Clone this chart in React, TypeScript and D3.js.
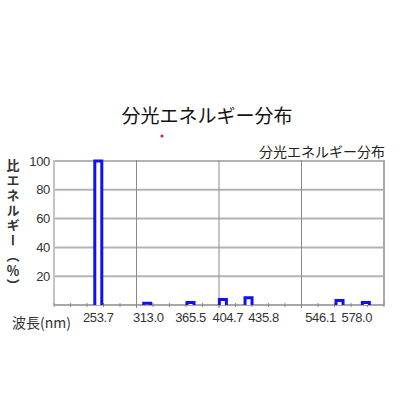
import React from "react";
import * as d3 from "d3";

// ---- data ----
const wavelengths = [253.7, 313.0, 365.5, 404.7, 435.8, 546.1, 578.0];
const energies = [100, 1.2, 1.8, 3.8, 5.0, 3.2, 1.8];
const tickLabels = ["253.7", "313.0", "365.5", "404.7", "435.8", "546.1", "578.0"];
const yTicks = [20, 40, 60, 80, 100];
const gridWavelengths = [300, 400, 500];
const minorTicks = d3.range(200, 601, 20);
const titleText = "分光エネルギー分布";
const yTitle = "比エネルギー（％）";
const xTitle = "波長(nm)";

// ---- layout ----
const W = 420;
const H = 420;
const left = 54;
const right = 384;
const top = 161;
const bottom = 305;
const labelNudge = [0, 1, 0, 5, 15, -19, -9];
const barW = 7;

const CJK = "'Noto Sans CJK JP', 'Noto Sans', sans-serif";
const LAT = "'Liberation Sans', Arial, sans-serif";

export default function App() {
  const x = d3.scaleLinear().domain([200, 600]).range([left, right]);
  const y = d3.scaleLinear().domain([0, 100]).range([bottom, top]);

  const barPath = (w: number, v: number) => {
    const p = d3.path();
    const x0 = x(w) - barW / 2;
    const x1 = x(w) + barW / 2;
    p.moveTo(x0, y(0));
    p.lineTo(x0, y(v));
    p.lineTo(x1, y(v));
    p.lineTo(x1, y(0));
    return p.toString();
  };

  return (
    <svg
      width={W}
      height={H}
      style={{ position: "absolute", left: 0, top: 0, background: "#fff" }}
    >
      <rect x={0} y={0} width={W} height={H} fill="#fff" />
      {/* title */}
      <text x={207} y={123} textAnchor="middle" fontFamily={CJK} fontSize={19} fill="#111">
        {titleText}
      </text>
      <circle cx={162} cy={136} r={1.6} fill="#e0202a" />
      <text x={right + 1} y={157} textAnchor="end" fontFamily={CJK} fontSize={14} fill="#222">
        {titleText}
      </text>

      {/* horizontal grid */}
      {yTicks.map((t) => (
        <line key={"h" + t} x1={left} x2={right} y1={y(t)} y2={y(t)} stroke="#b4b4b4" strokeWidth={2} />
      ))}
      {/* vertical grid */}
      {gridWavelengths.map((g) => (
        <line key={"v" + g} x1={x(g)} x2={x(g)} y1={top - 1} y2={bottom + 3} stroke="#8c8c8c" strokeWidth={1} />
      ))}
      {/* left axis & right border */}
      <line x1={left} x2={left} y1={top - 1} y2={bottom} stroke="#c4c4c4" strokeWidth={2} />
      <line x1={right} x2={right} y1={top - 1} y2={bottom} stroke="#a8a8a8" strokeWidth={2} />
      {/* bottom axis */}
      <line x1={left} x2={right} y1={bottom} y2={bottom} stroke="#a8a8a8" strokeWidth={2} />
      {minorTicks.map((t) => (
        <line key={"m" + t} x1={x(t)} x2={x(t)} y1={bottom - 2} y2={bottom + 2} stroke="#888" strokeWidth={1} />
      ))}

      {/* y tick labels */}
      {yTicks.map((t) => (
        <text key={"yl" + t} x={50} y={y(t) + 4.5} textAnchor="end" fontFamily={LAT} fontSize={13} fill="#333" letterSpacing={-0.3}>
          {t}
        </text>
      ))}

      {/* bars */}
      {wavelengths.map((w, i) => (
        <path key={"b" + i} d={barPath(w, energies[i])} fill="#fff" stroke="#1010f0" strokeWidth={3} />
      ))}

      {/* x tick labels */}
      {wavelengths.map((w, i) => (
        <text
          key={"xl" + i}
          x={x(w) + labelNudge[i]}
          y={322}
          textAnchor="middle"
          fontFamily={LAT}
          fontSize={13}
          letterSpacing={-0.4}
          fill="#333"
        >
          {tickLabels[i]}
        </text>
      ))}

      {/* axis titles */}
      <text x={12} y={328} fontFamily={CJK} fontSize={14} fill="#333">
        {xTitle}
      </text>
      <text
        x={13}
        y={159}
        fontFamily={CJK}
        fontSize={13}
        fontWeight="bold"
        fill="#333"
        style={{ writingMode: "vertical-rl", letterSpacing: "2px" } as any}
      >
        {yTitle}
      </text>
    </svg>
  );
}
